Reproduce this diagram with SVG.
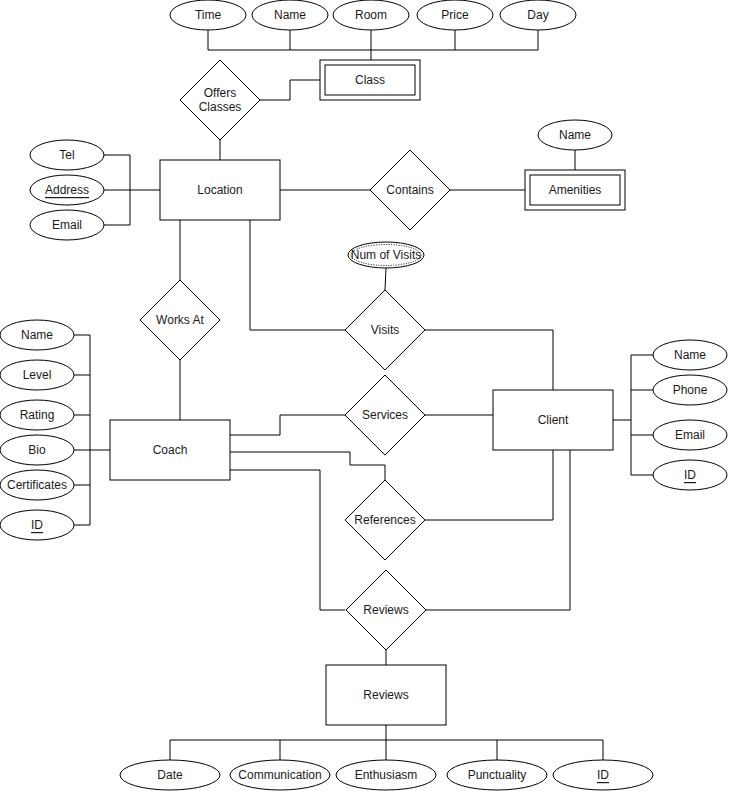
<svg xmlns="http://www.w3.org/2000/svg" width="731" height="791" viewBox="0 0 731 791">
<style>
.s{fill:#fff;stroke:#000;stroke-width:1}
.l{fill:none;stroke:#000;stroke-width:1}
text{font-family:"Liberation Sans",Arial,sans-serif;font-size:12px;text-anchor:middle;dominant-baseline:central;fill:#1a1a1a}
.u{text-decoration:underline}
</style>
<rect width="731" height="791" fill="#fff"/>
<g id="connectors" class="l">
<polyline points="208,30 208,50 538,50 538,30"/>
<line x1="290" y1="30" x2="290" y2="50"/><line x1="371" y1="30" x2="371" y2="60"/><line x1="455" y1="30" x2="455" y2="50"/>
<polyline points="260,100 290,100 290,80 320,80"/>
<line x1="220" y1="140" x2="220" y2="160"/>
<polyline points="104,155 130,155 130,225 104,225"/>
<line x1="104" y1="190" x2="160" y2="190"/>
<line x1="280" y1="190" x2="370" y2="190"/><line x1="450" y1="190" x2="525" y2="190"/>
<line x1="575" y1="150" x2="575" y2="170"/>
<line x1="180" y1="220" x2="180" y2="280"/><line x1="180" y1="360" x2="180" y2="420"/>
<line x1="386" y1="268" x2="385" y2="290"/>
<polyline points="250,220 250,330 345,330"/>
<polyline points="425,330 553,330 553,390"/>
<polyline points="74,335 90,335 90,525 74,525"/>
<line x1="74" y1="375" x2="90" y2="375"/><line x1="74" y1="415" x2="90" y2="415"/><line x1="74" y1="485" x2="90" y2="485"/>
<line x1="74" y1="450" x2="110" y2="450"/>
<polyline points="653,355 631,355 631,475 653,475"/>
<line x1="631" y1="390" x2="653" y2="390"/><line x1="631" y1="435" x2="653" y2="435"/>
<line x1="613" y1="420" x2="631" y2="420"/>
<polyline points="230,435 280,435 280,415 345,415"/>
<line x1="425" y1="415" x2="493" y2="415"/>
<polyline points="230,452 350,452 350,465 385,465 385,480"/>
<polyline points="425,520 553,520 553,450"/>
<polyline points="230,470 320,470 320,610 345,610"/>
<polyline points="425,610 570,610 570,450"/>
<line x1="386" y1="650" x2="386" y2="665"/>
<line x1="386" y1="725" x2="386" y2="760"/>
<polyline points="170,760 170,740 603,740 603,760"/>
<line x1="280" y1="740" x2="280" y2="760"/><line x1="497" y1="740" x2="497" y2="760"/>
</g>
<g id="time"><ellipse class="s" cx="208" cy="15" rx="38" ry="15"/><text x="208" y="15">Time</text></g>
<g id="cname"><ellipse class="s" cx="290" cy="15" rx="38" ry="15"/><text x="290" y="15">Name</text></g>
<g id="room"><ellipse class="s" cx="371" cy="15" rx="38" ry="15"/><text x="371" y="15">Room</text></g>
<g id="price"><ellipse class="s" cx="455" cy="15" rx="38" ry="15"/><text x="455" y="15">Price</text></g>
<g id="day"><ellipse class="s" cx="538" cy="15" rx="38" ry="15"/><text x="538" y="15">Day</text></g>
<g id="class"><rect class="s" x="320" y="60" width="100" height="40"/><rect class="s" x="325" y="65" width="90" height="30"/><text x="370" y="80">Class</text></g>
<g id="offers"><polygon class="s" points="220,60 260,100 220,140 180,100"/><text x="220" y="93">Offers</text><text x="220" y="107">Classes</text></g>
<g id="location"><rect class="s" x="160" y="160" width="120" height="60"/><text x="220" y="190">Location</text></g>
<g id="tel"><ellipse class="s" cx="67" cy="155" rx="37" ry="15"/><text x="67" y="155">Tel</text></g>
<g id="address"><ellipse class="s" cx="67" cy="190" rx="37" ry="15"/><text class="u" x="67" y="190">Address</text></g>
<g id="email"><ellipse class="s" cx="67" cy="225" rx="37" ry="15"/><text x="67" y="225">Email</text></g>
<g id="contains"><polygon class="s" points="410,150 450,190 410,230 370,190"/><text x="410" y="190">Contains</text></g>
<g id="amenities"><rect class="s" x="525" y="170" width="100" height="40"/><rect class="s" x="530" y="175" width="90" height="30"/><text x="575" y="190">Amenities</text></g>
<g id="aname"><ellipse class="s" cx="575" cy="135" rx="37" ry="15"/><text x="575" y="135">Name</text></g>
<g id="worksat"><polygon class="s" points="180,280 220,320 180,360 140,320"/><text x="180" y="320">Works At</text></g>
<g id="numvisits"><ellipse class="s" cx="386" cy="255" rx="38" ry="13"/><ellipse cx="386" cy="255" rx="35" ry="10.5" fill="none" stroke="#000" stroke-dasharray="1,1.5"/><text x="386" y="255">Num of Visits</text></g>
<g id="visits"><polygon class="s" points="385,290 425,330 385,370 345,330"/><text x="385" y="330">Visits</text></g>
<g id="coach"><rect class="s" x="110" y="420" width="120" height="60"/><text x="170" y="450">Coach</text></g>
<g id="coname"><ellipse class="s" cx="37" cy="335" rx="37" ry="15"/><text x="37" y="335">Name</text></g>
<g id="level"><ellipse class="s" cx="37" cy="375" rx="37" ry="15"/><text x="37" y="375">Level</text></g>
<g id="rating"><ellipse class="s" cx="37" cy="415" rx="37" ry="15"/><text x="37" y="415">Rating</text></g>
<g id="bio"><ellipse class="s" cx="37" cy="450" rx="37" ry="15"/><text x="37" y="450">Bio</text></g>
<g id="certs"><ellipse class="s" cx="37" cy="485" rx="37" ry="15"/><text x="37" y="485">Certificates</text></g>
<g id="coid"><ellipse class="s" cx="37" cy="525" rx="37" ry="15"/><text class="u" x="37" y="525">ID</text></g>
<g id="client"><rect class="s" x="493" y="390" width="120" height="60"/><text x="553" y="420">Client</text></g>
<g id="clname"><ellipse class="s" cx="690" cy="355" rx="37" ry="15"/><text x="690" y="355">Name</text></g>
<g id="phone"><ellipse class="s" cx="690" cy="390" rx="37" ry="15"/><text x="690" y="390">Phone</text></g>
<g id="clemail"><ellipse class="s" cx="690" cy="435" rx="37" ry="15"/><text x="690" y="435">Email</text></g>
<g id="clid"><ellipse class="s" cx="690" cy="475" rx="37" ry="15"/><text class="u" x="690" y="475">ID</text></g>
<g id="services"><polygon class="s" points="385,375 425,415 385,455 345,415"/><text x="385" y="415">Services</text></g>
<g id="references"><polygon class="s" points="385,480 425,520 385,560 345,520"/><text x="385" y="520">References</text></g>
<g id="reviewsrel"><polygon class="s" points="386,570 426,610 386,650 346,610"/><text x="386" y="610">Reviews</text></g>
<g id="reviews"><rect class="s" x="326" y="665" width="120" height="60"/><text x="386" y="695">Reviews</text></g>
<g id="date"><ellipse class="s" cx="170" cy="775" rx="50" ry="15"/><text x="170" y="775">Date</text></g>
<g id="comm"><ellipse class="s" cx="280" cy="775" rx="50" ry="15"/><text x="280" y="775">Communication</text></g>
<g id="enth"><ellipse class="s" cx="386" cy="775" rx="50" ry="15"/><text x="386" y="775">Enthusiasm</text></g>
<g id="punct"><ellipse class="s" cx="497" cy="775" rx="50" ry="15"/><text x="497" y="775">Punctuality</text></g>
<g id="rid"><ellipse class="s" cx="603" cy="775" rx="50" ry="15"/><text class="u" x="603" y="775">ID</text></g>
</svg>
